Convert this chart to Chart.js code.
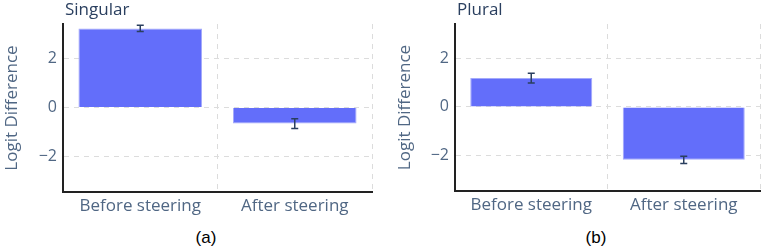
<!DOCTYPE html>
<html>
<head>
<meta charset="utf-8">
<script src="https://cdn.jsdelivr.net/npm/chart.js@4"></script>
<style>
  body { margin: 0; background: #fff; width: 766px; height: 250px; position: relative; overflow: hidden; font-family: "Open Sans", sans-serif; }
  .box { position: absolute; top: 0; width: 383px; height: 225px; }
  .ttl { position: absolute; top: -3px; font-size: 17px; color: #2a3f5f; }
  .cap { position: absolute; top: 228px; width: 40px; text-align: center; font-family: "Liberation Sans", Arial, sans-serif; font-size: 17px; color: #000; }
</style>
</head>
<body>
<div class="box" style="left:0"><canvas id="chart1"></canvas></div>
<div class="box" style="left:383px"><canvas id="chart2"></canvas></div>
<div class="ttl" style="left:65px">Singular</div>
<div class="ttl" style="left:457px">Plural</div>
<div class="cap" style="left:186px">(a)</div>
<div class="cap" style="left:576px">(b)</div>
<script>
var labels = ['Before steering', 'After steering'];
var singularVals = [3.22, -0.66];
var singularErr = [0.13, 0.2];
var pluralVals = [1.18, -2.17];
var pluralErr = [0.2, 0.15];
var yTicks = [-2, 0, 2];

// draws the error bars from the data arrays through the scales
var errorBars = {
  id: 'errorBars',
  afterDatasetsDraw(chart) {
    var ctx = chart.ctx;
    var meta = chart.getDatasetMeta(0);
    var errs = chart.data.datasets[0].errors;
    var vals = chart.data.datasets[0].data;
    var y = chart.scales.y;
    ctx.save();
    ctx.strokeStyle = '#2a3f5f';
    ctx.lineWidth = 1.5;
    meta.data.forEach(function (bar, i) {
      var x = bar.x;
      var top = y.getPixelForValue(vals[i] + errs[i]);
      var bot = y.getPixelForValue(vals[i] - errs[i]);
      ctx.beginPath();
      ctx.moveTo(x, top); ctx.lineTo(x, bot);
      ctx.moveTo(x - 3.5, top); ctx.lineTo(x + 3.5, top);
      ctx.moveTo(x - 3.5, bot); ctx.lineTo(x + 3.5, bot);
      ctx.stroke();
    });
    ctx.restore();
  }
};

function makeChart(id, vals, errs, pad, yWidth) {
  new Chart(document.getElementById(id), {
    type: 'bar',
    data: {
      labels: labels,
      datasets: [{
        data: vals,
        errors: errs,
        backgroundColor: '#636efa',
        borderColor: '#a3a9fb',
        borderWidth: 1,
        barPercentage: 0.8,
        categoryPercentage: 1
      }]
    },
    options: {
      responsive: false,
      animation: false,
      devicePixelRatio: 1,
      layout: { padding: pad },
      plugins: { legend: { display: false }, tooltip: { enabled: false } },
      scales: {
        x: {
          grid: { color: '#dcdcdc', drawTicks: false },
          border: { color: '#222', width: 2, dash: [5, 5] },
          ticks: { color: '#506784', font: { family: 'Open Sans', size: 17 }, padding: 4 },
          afterFit: function (s) { s.height = 33; }
        },
        y: {
          min: -3.45, max: 3.4,
          afterBuildTicks: function (s) { s.ticks = yTicks.map(function (v) { return { value: v }; }); },
          grid: { color: '#dcdcdc', drawTicks: false },
          border: { color: '#222', width: 2, dash: [5, 5] },
          ticks: {
            color: '#506784', font: { family: 'Open Sans', size: 16 }, padding: 6,
            callback: function (v) { return v < 0 ? '\u2212' + Math.abs(v) : String(v); }
          },
          title: { display: true, text: 'Logit Difference', color: '#506784', font: { family: 'Open Sans', size: 17 }, padding: { top: 2, bottom: 0 } },
          afterFit: function (s) { s.width = yWidth; }
        }
      }
    },
    plugins: [errorBars]
  });
}

document.getElementById('chart1').width = 383;
document.getElementById('chart1').height = 225;
document.getElementById('chart2').width = 383;
document.getElementById('chart2').height = 225;

makeChart('chart1', singularVals, singularErr, { top: 24, right: 11, left: 0, bottom: 0 }, 63);
makeChart('chart2', pluralVals, pluralErr, { top: 24, right: 6, left: 10, bottom: 1 }, 62);
</script>
</body>
</html>
